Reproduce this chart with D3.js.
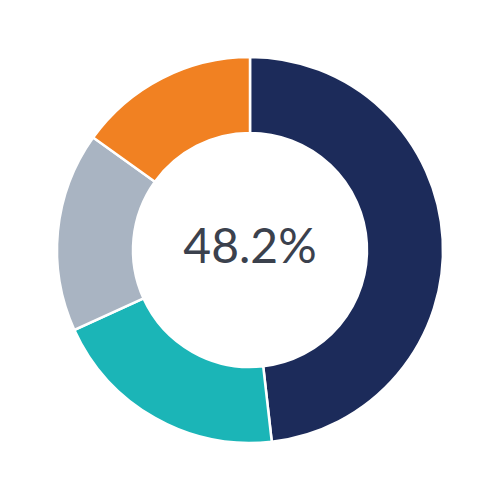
<!DOCTYPE html>
<html>
<head>
<meta charset="utf-8">
<title>Donut</title>
<script src="https://cdn.jsdelivr.net/npm/d3@7"></script>
<style>
  body { margin: 0; background: #fff; }
</style>
</head>
<body>
<div id="chart"></div>
<script>
const labels = ["A", "B", "C", "D"];
const values = [48.2, 20.0, 16.7, 15.1];
const colors = ["#1c2b5a", "#1bb5b7", "#a9b4c2", "#f18122"];
const centerLabel = "48.2%";

const width = 500, height = 500;
const outer = 193, inner = 117;

const svg = d3.select("#chart").append("svg")
    .attr("width", width)
    .attr("height", height);

const g = svg.append("g")
    .attr("transform", `translate(${width / 2},${height / 2})`);

const pie = d3.pie().sort(null).value(d => d);
const arc = d3.arc().innerRadius(inner).outerRadius(outer);

g.selectAll("path")
    .data(pie(values))
    .join("path")
    .attr("d", arc)
    .attr("fill", (d, i) => colors[i])
    .attr("stroke", "#fff")
    .attr("stroke-width", 2.5);

g.append("text")
    .attr("text-anchor", "middle")
    .attr("y", 13)
    .attr("font-family", "Lato, sans-serif")
    .attr("font-size", 48)
    .attr("fill", "#3b414d")
    .text(centerLabel);
</script>
</body>
</html>
